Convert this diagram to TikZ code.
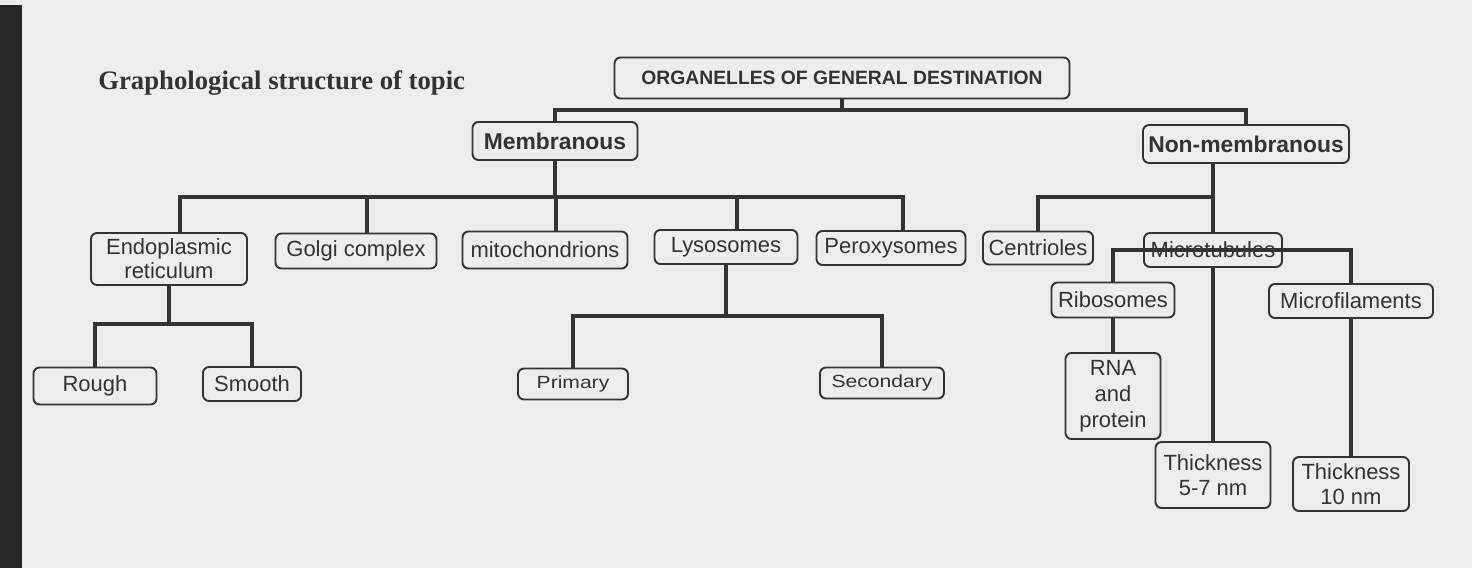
\documentclass[tikz,border=0pt]{standalone}
\usepackage{fontspec}
\setmainfont{Liberation Sans}
\newfontfamily\titlefont{Liberation Serif}
\newfontfamily\widefont[FakeStretch=1.2]{Liberation Sans}
\definecolor{paper}{HTML}{EDEDED}
\definecolor{ink}{HTML}{333333}
\tikzset{
  orgbox/.style={draw=ink,line width=1.1pt,rounded corners=0.12cm,align=center,text=ink,inner sep=0pt,font=\fontsize{12.5}{14}\selectfont},
  headbox/.style={orgbox,font=\bfseries\fontsize{13}{15}\selectfont},
  subbox/.style={orgbox,font=\widefont\fontsize{10}{12}\selectfont},
  sz/.style 2 args={minimum width=#1*0.2mm,minimum height=#2*0.2mm},
  link/.style={draw=ink,line width=2.2pt},
}
\begin{document}
\begin{tikzpicture}[x=0.2mm,y=-0.2mm]
  \useasboundingbox (0,0) rectangle (1472,568);
  \fill[paper] (0,0) rectangle (1472,568);
  \fill[black!85] (0,5) rectangle (22,568);
  % title
  \node[anchor=base west,inner sep=0pt,text=ink,font=\titlefont\bfseries\fontsize{15.2}{17}\selectfont] (title) at (98,90) {Graphological structure of topic};
  % boxes
  \node[orgbox,sz={455}{41},font=\bfseries\fontsize{11}{13}\selectfont] (top) at (842,78) {ORGANELLES OF GENERAL DESTINATION};
  \node[headbox,sz={165}{38}] (memb) at (555,141) {Membranous};
  \node[headbox,sz={206}{38}] (nonmemb) at (1246,144) {Non-membranous};
  \node[orgbox,sz={156}{52},font=\fontsize{12.5}{13.5}\selectfont] (endo) at (169,259) {Endoplasmic\\reticulum};
  \node[orgbox,sz={161}{35}] (golgi) at (356,251) {Golgi complex};
  \node[orgbox,sz={165}{37}] (mito) at (545,250) {mitochondrions};
  \node[orgbox,sz={143}{34}] (lyso) at (726,247) {Lysosomes};
  \node[orgbox,sz={149}{34}] (perox) at (891,248) {Peroxysomes};
  \node[orgbox,sz={110}{33}] (centr) at (1038,248) {Centrioles};
  \node[orgbox,sz={138}{34}] (microt) at (1213,250) {Microtubules};
  \node[orgbox,sz={123}{35}] (ribo) at (1113,300) {Ribosomes};
  \node[orgbox,sz={164}{34}] (microf) at (1351,301) {Microfilaments};
  \node[orgbox,sz={123}{37}] (rough) at (95,386) {Rough};
  \node[orgbox,sz={98}{34}] (smooth) at (252,384) {Smooth};
  \node[subbox,sz={110}{31}] (primary) at (573,384) {Primary};
  \node[subbox,sz={124}{31}] (second) at (882,383) {Secondary};
  \node[orgbox,sz={95}{86},font=\fontsize{12.5}{14.7}\selectfont] (rna) at (1113,396) {RNA\\and\\protein};
  \node[orgbox,sz={115}{66}] (thick1) at (1213,475) {Thickness\\5-7 nm};
  \node[orgbox,sz={116}{54}] (thick2) at (1351,484) {Thickness\\10 nm};
  % bus levels
  \coordinate (bus0) at (0,110);
  \coordinate (bus1) at (0,197);
  \coordinate (bus2) at (0,324);
  \coordinate (bus3) at (0,316);
  % top level
  \draw[link] (top.south) -- (top |- bus0);
  \draw[link] (memb.north) |- (nonmemb.north |- bus0) -- (nonmemb.north);
  % membranous
  \draw[link] (memb.south) -- (memb |- bus1);
  \draw[link] ([xshift=2.2mm]endo.north) |- ([xshift=2.4mm]perox.north |- bus1) -- ([xshift=2.4mm]perox.north);
  \foreach \n in {golgi,mito,lyso}
    \draw[link] ([xshift=2.2mm]\n.north) -- ([xshift=2.2mm]\n.north |- bus1);
  \draw[link] (endo.south) -- (endo |- bus2);
  \draw[link] (rough.north) |- (smooth.north |- bus2) -- (smooth.north);
  \draw[link] (lyso.south) -- (lyso |- bus3);
  \draw[link] (primary.north) |- (second.north |- bus3) -- (second.north);
  % non-membranous
  \draw[link] (microt |- nonmemb.south) -- (microt.north);
  \draw[link] (centr.north) |- (microt |- bus1);
  \draw[link] (microt.south) -- (thick1.north);
  \draw[link] (ribo.north) |- (microf.north |- microt) -- (microf.north);
  \draw[link] (ribo.south) -- (rna.north);
  \draw[link] (microf.south) -- (thick2.north);
\end{tikzpicture}
\end{document}
